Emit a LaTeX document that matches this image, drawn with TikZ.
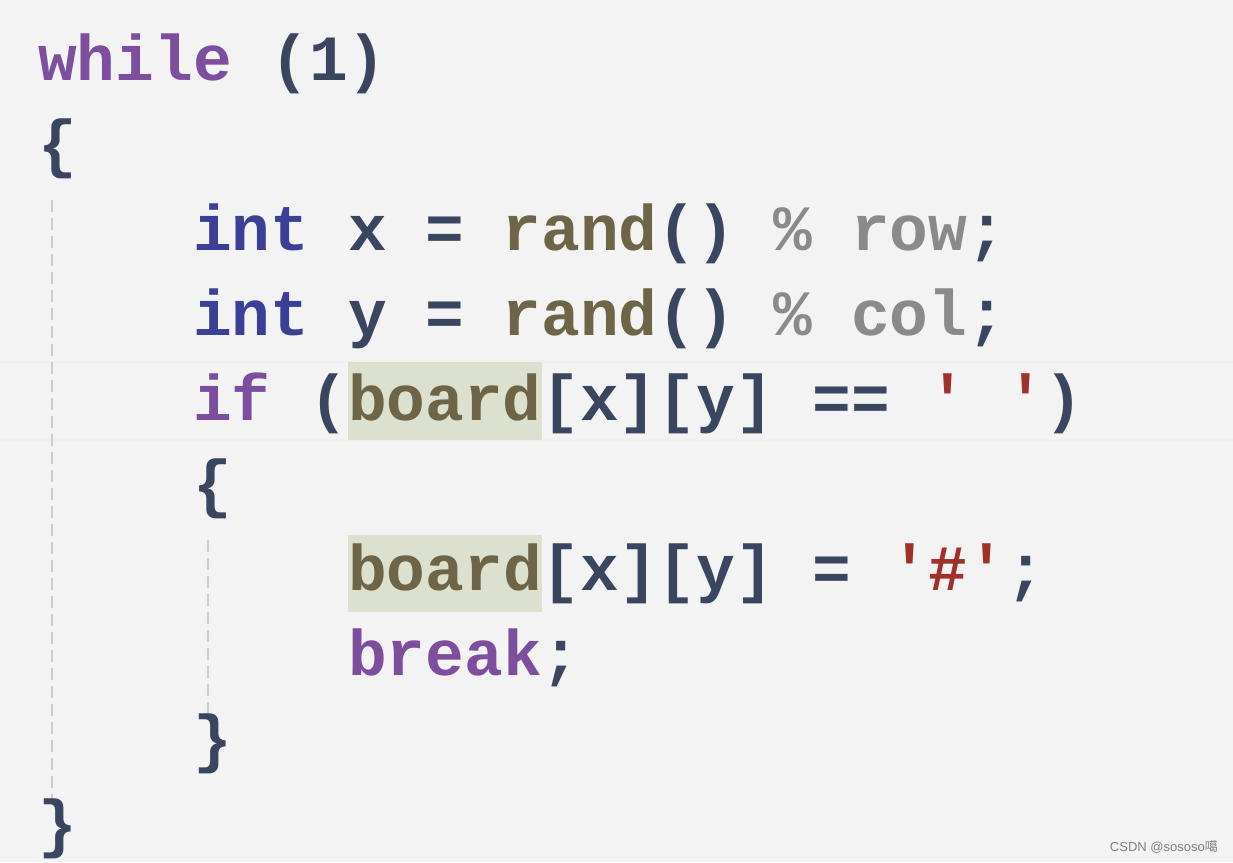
\documentclass[tikz,border=0pt]{standalone}
\usepackage{fontspec}
\setmonofont{Liberation Mono}
\newfontfamily\cjk{Noto Sans CJK SC}
\setsansfont{Liberation Sans}
\definecolor{bg}{HTML}{F3F3F3}
\definecolor{kw}{HTML}{7E4E9E}
\definecolor{ty}{HTML}{3B3F98}
\definecolor{id}{HTML}{3A4560}
\definecolor{fn}{HTML}{6E6548}
\definecolor{gr}{HTML}{8A8A8A}
\definecolor{st}{HTML}{A0302A}
\definecolor{hl}{HTML}{DCE0CE}
\tikzset{code/.style={anchor=base west,inner sep=0pt,font=\fontsize{64.5}{64}\ttfamily\bfseries,text=id},
guide/.style={draw=gray!40,dash pattern=on 12pt off 6pt,line width=2pt}}
\begin{document}
\begin{tikzpicture}[x=1pt,y=-1pt]
\fill[bg] (0,0) rectangle (1233,862);
\useasboundingbox (0,0) rectangle (1233,862);
\draw[gray!12,line width=1.5pt] (0,362) -- (1233,362) (0,440) -- (1233,440);
\fill[hl] (348,362) rectangle (542,440);
\fill[hl] (348,535) rectangle (542,612);
\draw[guide] (52,200) -- (52,800);
\draw[guide] (208,540) -- (208,720);
\node[code] (l1) at (38,80) {\textcolor{kw}{while} (1)};
\node[code] (l2) at (38,165) {\{};
\node[code] (l3) at (193,250) {\textcolor{ty}{int} x = \textcolor{fn}{rand}() \textcolor{gr}{\%} \textcolor{gr}{row};};
\node[code] (l4) at (193,335) {\textcolor{ty}{int} y = \textcolor{fn}{rand}() \textcolor{gr}{\%} \textcolor{gr}{col};};
\node[code] (l5) at (193,420) {\textcolor{kw}{if} (\textcolor{fn}{board}[x][y] == \textcolor{st}{' '})};
\node[code] (l6) at (193,505) {\{};
\node[code] (l7) at (348,590) {\textcolor{fn}{board}[x][y] = \textcolor{st}{'\#'};};
\node[code] (l8) at (348,675) {\textcolor{kw}{break};};
\node[code] (l9) at (193,760) {\}};
\node[code] (l10) at (38,845) {\}};
\node[anchor=base east,inner sep=0pt,font=\sffamily\fontsize{13}{13}\selectfont,text=gray] (wm) at (1218,851) {CSDN @sososo{\cjk 噶}};
\end{tikzpicture}
\end{document}
